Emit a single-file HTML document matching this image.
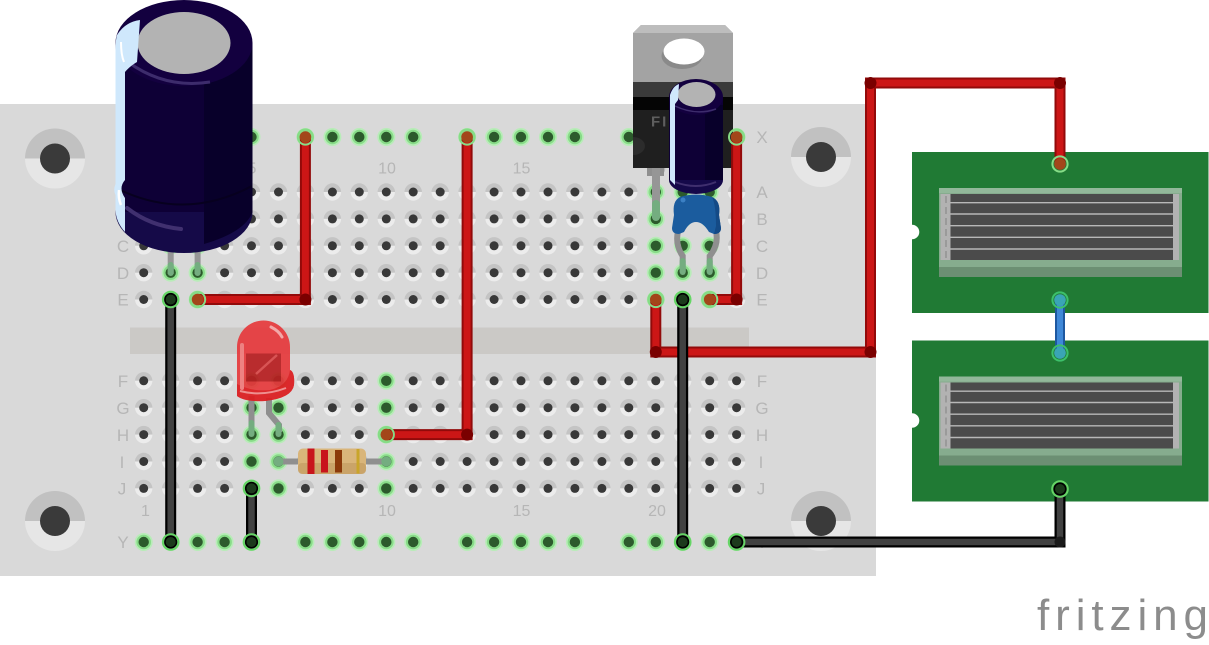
<!DOCTYPE html>
<html><head><meta charset="utf-8"><style>
html,body{margin:0;padding:0;background:#fff;}
svg{display:block;}
text{font-family:"Liberation Sans","DejaVu Sans",sans-serif;}
</style></head><body>
<svg width="1209" height="645" viewBox="0 0 1209 645" xmlns="http://www.w3.org/2000/svg">
<defs>
<g id="n"><path d="M-8.7,0A8.7,8.7 0 0 1 8.7,0Z" fill="#c4c4c4"/><path d="M-8.7,0A8.7,8.7 0 0 0 8.7,0Z" fill="#ececec"/><circle r="4.5" fill="#383838"/></g>
<g id="g"><circle r="9" fill="#b8ecb8"/><circle r="7.3" fill="#88dc88"/><circle r="5.2" fill="#2c5a2c"/></g>
<g id="m"><path d="M-30,0A30,30 0 0 1 30,0Z" fill="#c1c1c1"/><path d="M-30,0A30,30 0 0 0 30,0Z" fill="#e6e6e6"/><circle r="15" fill="#3a3a3a"/></g>
<g id="rAE">
<use href="#n" x="143.7"/><use href="#n" x="224.6"/><use href="#n" x="251.5"/><use href="#n" x="278.5"/><use href="#n" x="305.4"/><use href="#n" x="332.4"/><use href="#n" x="359.3"/><use href="#n" x="386.3"/><use href="#n" x="413.2"/><use href="#n" x="440.2"/><use href="#n" x="467.1"/><use href="#n" x="494.1"/><use href="#n" x="521"/><use href="#n" x="548"/><use href="#n" x="574.9"/><use href="#n" x="601.9"/><use href="#n" x="628.8"/><use href="#n" x="736.6"/>
<use href="#g" x="170.7"/><use href="#g" x="197.6"/><use href="#g" x="655.8"/><use href="#g" x="682.7"/><use href="#g" x="709.7"/>
</g>
<g id="rFJ">
<use href="#n" x="143.7"/><use href="#n" x="170.7"/><use href="#n" x="197.6"/><use href="#n" x="224.6"/><use href="#n" x="305.4"/><use href="#n" x="332.4"/><use href="#n" x="359.3"/><use href="#n" x="413.2"/><use href="#n" x="440.2"/><use href="#n" x="467.1"/><use href="#n" x="494.1"/><use href="#n" x="521"/><use href="#n" x="548"/><use href="#n" x="574.9"/><use href="#n" x="601.9"/><use href="#n" x="628.8"/><use href="#n" x="655.8"/><use href="#n" x="682.7"/><use href="#n" x="709.7"/><use href="#n" x="736.6"/>
<use href="#g" x="251.5"/><use href="#g" x="278.5"/><use href="#g" x="386.3"/>
</g>
<g id="rail">
<use href="#g" x="143.7"/><use href="#g" x="170.7"/><use href="#g" x="197.6"/><use href="#g" x="224.6"/><use href="#g" x="251.5"/>
<use href="#g" x="305.4"/><use href="#g" x="332.4"/><use href="#g" x="359.3"/><use href="#g" x="386.3"/><use href="#g" x="413.2"/>
<use href="#g" x="467.1"/><use href="#g" x="494.1"/><use href="#g" x="521"/><use href="#g" x="548"/><use href="#g" x="574.9"/>
<use href="#g" x="628.8"/><use href="#g" x="655.8"/><use href="#g" x="682.7"/><use href="#g" x="709.7"/><use href="#g" x="736.6"/>
</g>
<g id="er"><circle r="7.6" fill="none" stroke="#86dc86" stroke-width="2"/><circle r="5.8" fill="#a3461a"/></g>
<g id="eb"><circle r="7.8" fill="none" stroke="#66d466" stroke-width="2"/><circle r="5.8" fill="#1c3a1c" stroke="#000" stroke-width="1.6"/></g>
<g id="eu"><circle r="7.6" fill="none" stroke="#3cc06a" stroke-width="2"/><circle r="5.8" fill="#3aa5b5"/></g>
<g id="panel">
<rect x="0" y="0" width="296.5" height="161" fill="#207a34"/>
<circle cx="0" cy="80" r="7.3" fill="#fff"/>
<rect x="27" y="36" width="243" height="79" fill="#86ac8e"/>
<rect x="27" y="36" width="243" height="5" fill="#92b89a"/>
<rect x="27" y="115" width="243" height="10" fill="#6c8f73"/>
<rect x="28.5" y="42" width="10" height="66" fill="#b2b2b2"/>
<line x1="34" y1="44" x2="34" y2="106" stroke="#8e8e8e" stroke-width="1.3" stroke-dasharray="7,4"/>
<rect x="261" y="42" width="6" height="66" fill="#b2b2b2"/>
<rect x="38.5" y="42" width="222.5" height="66" fill="#4b4b4b"/>
<g stroke="#b8b8b8" stroke-width="1.4">
<line x1="38.5" y1="50.7" x2="261" y2="50.7"/>
<line x1="38.5" y1="62" x2="261" y2="62"/>
<line x1="38.5" y1="73.7" x2="261" y2="73.7"/>
<line x1="38.5" y1="85.3" x2="261" y2="85.3"/>
<line x1="38.5" y1="97" x2="261" y2="97"/>
</g>
</g>
</defs>

<rect width="1209" height="645" fill="#fff"/>

<!-- breadboard -->
<rect x="0" y="104" width="876" height="472" fill="#d9d9d9"/>
<rect x="130" y="327.5" width="619" height="26.5" fill="#cbc9c6"/>
<use href="#m" x="55" y="158.5"/>
<use href="#m" x="821" y="157"/>
<use href="#m" x="55" y="521"/>
<use href="#m" x="821" y="521"/>

<!-- labels -->
<g fill="#b6b6b6" font-size="17" text-anchor="middle">
<text x="123" y="143">X</text><text x="123" y="198">A</text><text x="123" y="225">B</text><text x="123" y="252">C</text><text x="123" y="279">D</text><text x="123" y="305.5">E</text>
<text x="123" y="387">F</text><text x="123" y="414">G</text><text x="123" y="441">H</text><text x="122" y="468">I</text><text x="122" y="494.5">J</text><text x="123" y="548">Y</text>
<text x="762" y="143">X</text><text x="762" y="198">A</text><text x="762" y="225">B</text><text x="762" y="252">C</text><text x="762" y="279">D</text><text x="762" y="305.5">E</text>
<text x="762" y="387">F</text><text x="762" y="414">G</text><text x="762" y="441">H</text><text x="761" y="468">I</text><text x="761" y="494.5">J</text><text x="762" y="548">Y</text>
</g>
<g fill="#b6b6b6" font-size="16" text-anchor="middle">
<text x="145" y="173.5">1</text><text x="252" y="173.5">5</text><text x="387" y="173.5">10</text><text x="521.5" y="173.5">15</text><text x="657" y="173.5">20</text>
<text x="145.5" y="516">1</text><text x="252" y="516">5</text><text x="387" y="516">10</text><text x="521.5" y="516">15</text><text x="657" y="516">20</text>
</g>

<!-- holes -->
<use href="#rail" y="137"/>
<use href="#rAE" y="192"/>
<use href="#rAE" y="218.9"/>
<use href="#rAE" y="245.8"/>
<use href="#rAE" y="272.7"/>
<use href="#rAE" y="299.5"/>
<use href="#rFJ" y="380.8"/>
<use href="#rFJ" y="407.7"/>
<use href="#rFJ" y="434.6"/>
<use href="#rFJ" y="461.5"/>
<use href="#rFJ" y="488.4"/>
<use href="#rail" y="542"/>

<!-- solar panels -->
<use href="#panel" x="912" y="152"/>
<use href="#panel" x="912" y="340.5"/>

<!-- voltage regulator -->
<path d="M641,25 L725,25 L733,33 L733,82 L633,82 L633,33 Z" fill="#a3a3a3"/>
<path d="M641,25 L725,25 L733,33 L633,33 Z" fill="#bdbdbd"/>
<ellipse cx="682" cy="56" rx="20.5" ry="13" fill="#8a8a8a"/>
<ellipse cx="684" cy="51.5" rx="20.5" ry="13" fill="#fff"/>
<rect x="633" y="82" width="100" height="15" fill="#3a3a3a"/>
<rect x="633" y="97" width="100" height="13" fill="#050505"/>
<rect x="633" y="110" width="100" height="58" fill="#1f1f1f"/>
<path d="M633,137 A12,9 0 0 1 633,155 Z" fill="#2c2c2c"/>
<text x="651" y="126.5" font-size="15" font-weight="bold" fill="#5e5e5e" letter-spacing="2">FI</text>
<rect x="647" y="168" width="17" height="8" fill="#8f8f8f"/>
<rect x="652" y="168" width="8" height="50" fill="#969696"/>
<rect x="652" y="200" width="8" height="21" rx="4" fill="#74ad80"/>

<!-- ceramic capacitor legs -->
<path d="M678,231 Q675,245 682.7,256 L682.7,272" stroke="#8f8f8f" stroke-width="6" fill="none"/>
<path d="M716,231 Q719,245 709.7,256 L709.7,272" stroke="#8f8f8f" stroke-width="6" fill="none"/>
<rect x="679.7" y="258" width="6" height="17" rx="3" fill="#74ad80"/>
<rect x="706.7" y="258" width="6" height="17" rx="3" fill="#74ad80"/>
<!-- ceramic capacitor body -->
<path d="M680,197 Q696,192 712,197 Q721,201 719,215 L721,228 Q721,234 714,234 L709,232 Q703,222 696,222 Q689,222 684,232 L679,234 Q672,234 672,228 L674,215 Q672,201 680,197 Z" fill="#1b5c9e"/>
<path d="M712,197 Q721,201 719,215 L721,228 Q721,234 714,234 L716,226 Q716,205 712,197 Z" fill="#144a86"/>
<circle cx="683" cy="200" r="2.5" fill="#3b80c4"/>

<!-- small electrolytic cap -->
<ellipse cx="696" cy="180" rx="27" ry="14" fill="#15094a"/>
<rect x="669" y="97" width="54" height="83" fill="#0e0036"/>
<rect x="705" y="105" width="18" height="75" fill="#08002a"/>
<path d="M675,182 Q696,190 716,182" stroke="#3f2f6e" stroke-width="2" fill="none"/>
<ellipse cx="696" cy="97" rx="27" ry="18" fill="#13003f"/>
<path d="M675,106 Q696,116 716,109" stroke="#3d2c6c" stroke-width="1.5" fill="none"/>
<ellipse cx="696.5" cy="94.5" rx="19" ry="12.5" fill="#b3b3b3"/>
<path d="M670,95 Q673,86 679,84 L678,100 L675,104 L675,185 L670,180 Z" fill="#cfe8fc"/>

<!-- big electrolytic cap legs -->
<rect x="167.7" y="246" width="6" height="28" fill="#969696"/>
<rect x="194.6" y="246" width="6" height="28" fill="#969696"/>
<rect x="167.7" y="262" width="6" height="14" rx="3" fill="#74ad80"/>
<rect x="194.6" y="262" width="6" height="14" rx="3" fill="#74ad80"/>
<!-- big electrolytic cap -->
<ellipse cx="184" cy="212" rx="68.5" ry="41" fill="#150a48"/>
<rect x="115.5" y="43" width="137" height="169" fill="#0e0036"/>
<path d="M204,62 L252.5,50 L252.5,212 Q245,232 204,244 Z" fill="#08002a"/>
<path d="M116,188 Q184,222 252,186" stroke="#07001f" stroke-width="2" fill="none"/>
<path d="M127,208 Q150,226 181,229" stroke="#40306f" stroke-width="4" fill="none" stroke-linecap="round"/>
<ellipse cx="184" cy="43" rx="68.5" ry="43" fill="#13003f"/>
<path d="M128,62 Q165,89 210,82" stroke="#3d2c6c" stroke-width="3" fill="none"/>
<ellipse cx="184" cy="43" rx="46.5" ry="31" fill="#b3b3b3"/>
<path d="M117,35 Q125,22 140,20 L137,62 Q130,66 125,72 L125,180 Q118,188 125,198 L125,232 Q116,222 115.5,210 L115.5,195 Q113,190 115.5,184 L115.5,50 Q115.5,40 117,35 Z" fill="#cfe8fc"/>
<path d="M121,42 Q121,55 124,62" stroke="#fff" stroke-width="2" fill="none"/>
<path d="M119,190 Q118,198 121,205" stroke="#fff" stroke-width="2.5" fill="none"/>

<!-- LED legs -->
<path d="M251.5,396 L251.5,432" stroke="#8f8f8f" stroke-width="6" fill="none"/>
<path d="M269,398 L269,413 L279,425 L279,432" stroke="#8f8f8f" stroke-width="6" fill="none"/>
<rect x="248.5" y="420" width="6" height="17" rx="3" fill="#74ad80"/>
<rect x="275.5" y="422" width="6" height="15" rx="3" fill="#74ad80"/>
<!-- LED body -->
<g opacity="0.93">
<path d="M237,347 A26.5,26.5 0 0 1 290,347 L290,370 Q295,372 294,385 Q292,398 265,401 Q245,402 237,396 Z" fill="#e63b3e"/>
<path d="M237,384 Q252,392 270,390 Q288,386 290,370 Q295,372 294,385 Q292,398 265,401 Q245,402 237,396 Z" fill="#dc1c1f"/>
<rect x="246" y="353.5" width="35" height="28" fill="#b71f22"/>
<path d="M256,374 L277,355" stroke="#d84a4a" stroke-width="2.5"/>
<path d="M242,345 L242,388" stroke="#f07c7c" stroke-width="4" stroke-linecap="round"/>
<path d="M271,327 Q279,331 282,337" stroke="#f5a6a6" stroke-width="3" fill="none" stroke-linecap="round"/>
<path d="M240,391 Q262,397 286,388" stroke="#f08a8a" stroke-width="2" fill="none"/>
</g>

<!-- resistor -->
<line x1="278.5" y1="461.5" x2="386.3" y2="461.5" stroke="#8f8f8f" stroke-width="6"/>
<circle cx="278.5" cy="461.5" r="5" fill="#74ad80"/>
<circle cx="386.3" cy="461.5" r="5" fill="#74ad80"/>
<rect x="298" y="448.5" width="68" height="25.5" rx="5" fill="#d9b57a"/>
<rect x="298" y="463" width="68" height="11" rx="4" fill="#c09a5e" opacity="0.6"/>
<rect x="307.5" y="448.5" width="7" height="25.5" fill="#c8141c"/>
<rect x="321" y="450" width="7" height="22.5" fill="#c8141c"/>
<rect x="335" y="450" width="7" height="22.5" fill="#8b3a0a"/>
<rect x="356.5" y="449" width="3" height="24.5" fill="#c9a52a"/>

<!-- wires -->
<g fill="none" stroke-linejoin="miter">
<g stroke="#920a0a" stroke-width="11">
<polyline points="305.4,137 305.4,299.5 197.6,299.5"/>
<polyline points="467.1,137 467.1,434.6 386.3,434.6"/>
<polyline points="736.6,137 736.6,299.5 709.7,299.5"/>
<polyline points="655.8,299.5 655.8,352 870.5,352 870.5,83 1060,83 1060,164"/>
</g>
<g stroke="#cc1616" stroke-width="7">
<polyline points="305.4,137 305.4,299.5 197.6,299.5"/>
<polyline points="467.1,137 467.1,434.6 386.3,434.6"/>
<polyline points="736.6,137 736.6,299.5 709.7,299.5"/>
<polyline points="655.8,299.5 655.8,352 870.5,352 870.5,83 1060,83 1060,164"/>
</g>
<g stroke="#000" stroke-width="11">
<polyline points="170.7,299.5 170.7,542"/>
<polyline points="251.5,488.4 251.5,542"/>
<polyline points="682.7,299.5 682.7,542"/>
<polyline points="736.6,542 1060,542 1060,489"/>
</g>
<g stroke="#414141" stroke-width="6.5">
<polyline points="170.7,299.5 170.7,542"/>
<polyline points="251.5,488.4 251.5,542"/>
<polyline points="682.7,299.5 682.7,542"/>
<polyline points="736.6,542 1060,542 1060,489"/>
</g>
<line x1="1060" y1="300" x2="1060" y2="353" stroke="#1e58a0" stroke-width="10"/>
<line x1="1060" y1="300" x2="1060" y2="353" stroke="#3f88d8" stroke-width="6"/>
</g>
<!-- bendpoints -->
<g fill="#7a0000">
<circle cx="305.4" cy="299.5" r="6"/>
<circle cx="467.1" cy="434.6" r="6"/>
<circle cx="736.6" cy="299.5" r="6"/>
<circle cx="655.8" cy="352" r="6"/>
<circle cx="870.5" cy="352" r="6"/>
<circle cx="870.5" cy="83" r="6"/>
<circle cx="1060" cy="83" r="6"/>
</g>
<g fill="#1a1a1a"><circle cx="1060" cy="542" r="5.5"/></g>
<!-- wire ends -->
<use href="#er" x="305.4" y="137"/><use href="#er" x="197.6" y="299.5"/>
<use href="#er" x="467.1" y="137"/><use href="#er" x="386.3" y="434.6"/>
<use href="#er" x="736.6" y="137"/><use href="#er" x="709.7" y="299.5"/>
<use href="#er" x="655.8" y="299.5"/><use href="#er" x="1060" y="164"/>
<use href="#eb" x="170.7" y="299.5"/><use href="#eb" x="170.7" y="542"/>
<use href="#eb" x="251.5" y="488.4"/><use href="#eb" x="251.5" y="542"/>
<use href="#eb" x="682.7" y="299.5"/><use href="#eb" x="682.7" y="542"/>
<use href="#eb" x="736.6" y="542"/><use href="#eb" x="1060" y="489"/>
<use href="#eu" x="1060" y="300"/><use href="#eu" x="1060" y="353"/>

<!-- fritzing logo -->
<text x="1037" y="630" font-size="44" fill="#8c8c8c" textLength="171" lengthAdjust="spacing">fritzing</text>
</svg>
</body></html>
